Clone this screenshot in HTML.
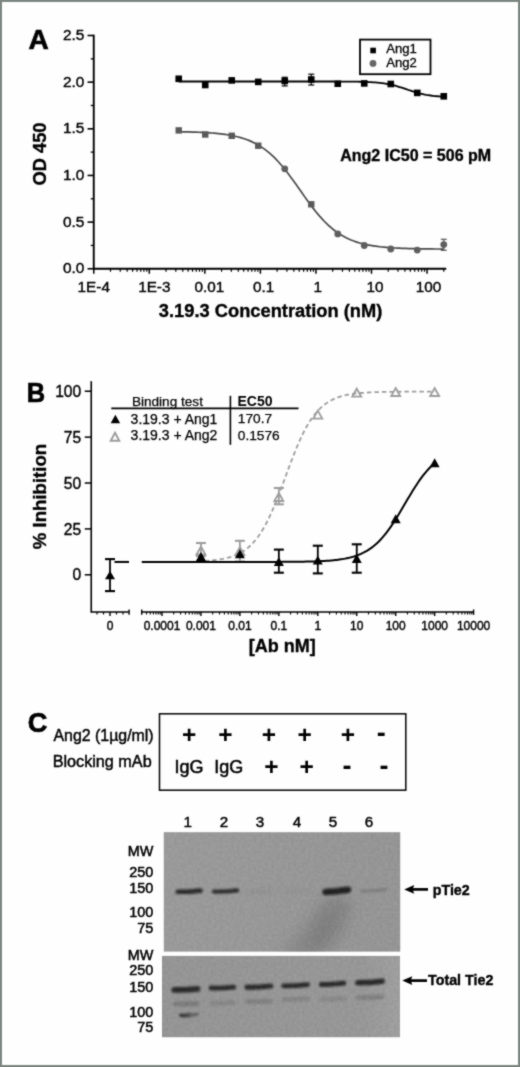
<!DOCTYPE html>
<html><head><meta charset="utf-8"><title>Figure</title>
<style>
html,body{margin:0;padding:0;background:#fff;}
svg{display:block;}
text{font-family:"Liberation Sans",Arial,sans-serif;}
</style></head>
<body>
<svg width="520" height="1067" viewBox="0 0 520 1067">
<defs><filter id="soft" filterUnits="userSpaceOnUse" x="0" y="0" width="520" height="1067" color-interpolation-filters="sRGB"><feConvolveMatrix order="3" kernelMatrix="1 2 1 2 12 2 1 2 1" edgeMode="duplicate" preserveAlpha="false"/></filter></defs>
<g filter="url(#soft)">
<rect x="0" y="0" width="520" height="1067" fill="#7c8681"/>
<rect x="2" y="2" width="516" height="1063" fill="#fefefe"/>
<text x="28.4" y="49" font-size="28" font-weight="bold" text-anchor="start" fill="#000" stroke="#000" stroke-width="0.7">A</text>
<line x1="93.75" y1="34.7" x2="93.75" y2="269.55" stroke="#000" stroke-width="1.9" />
<line x1="87.55" y1="268.75" x2="93.75" y2="268.75" stroke="#000" stroke-width="1.6" />
<text x="84.3" y="273.35" font-size="15.4" font-weight="normal" text-anchor="end" fill="#000"  stroke="#000" stroke-width="0.4">0.0</text>
<line x1="90.75" y1="245.43" x2="93.75" y2="245.43" stroke="#000" stroke-width="1.3" />
<line x1="87.55" y1="222.1" x2="93.75" y2="222.1" stroke="#000" stroke-width="1.6" />
<text x="84.3" y="226.7" font-size="15.4" font-weight="normal" text-anchor="end" fill="#000"  stroke="#000" stroke-width="0.4">0.5</text>
<line x1="90.75" y1="198.78" x2="93.75" y2="198.78" stroke="#000" stroke-width="1.3" />
<line x1="87.55" y1="175.45" x2="93.75" y2="175.45" stroke="#000" stroke-width="1.6" />
<text x="84.3" y="180.05" font-size="15.4" font-weight="normal" text-anchor="end" fill="#000"  stroke="#000" stroke-width="0.4">1.0</text>
<line x1="90.75" y1="152.12" x2="93.75" y2="152.12" stroke="#000" stroke-width="1.3" />
<line x1="87.55" y1="128.8" x2="93.75" y2="128.8" stroke="#000" stroke-width="1.6" />
<text x="84.3" y="133.4" font-size="15.4" font-weight="normal" text-anchor="end" fill="#000"  stroke="#000" stroke-width="0.4">1.5</text>
<line x1="90.75" y1="105.47" x2="93.75" y2="105.47" stroke="#000" stroke-width="1.3" />
<line x1="87.55" y1="82.15" x2="93.75" y2="82.15" stroke="#000" stroke-width="1.6" />
<text x="84.3" y="86.75" font-size="15.4" font-weight="normal" text-anchor="end" fill="#000"  stroke="#000" stroke-width="0.4">2.0</text>
<line x1="90.75" y1="58.83" x2="93.75" y2="58.83" stroke="#000" stroke-width="1.3" />
<line x1="87.55" y1="35.5" x2="93.75" y2="35.5" stroke="#000" stroke-width="1.6" />
<text x="84.3" y="40.1" font-size="15.4" font-weight="normal" text-anchor="end" fill="#000"  stroke="#000" stroke-width="0.4">2.5</text>
<line x1="93.75" y1="268.75" x2="446.27" y2="268.75" stroke="#000" stroke-width="1.9" />
<line x1="93.75" y1="268.75" x2="93.75" y2="273.75" stroke="#000" stroke-width="1.5" />
<line x1="110.47" y1="268.75" x2="110.47" y2="271.75" stroke="#000" stroke-width="1.2" />
<line x1="120.25" y1="268.75" x2="120.25" y2="271.75" stroke="#000" stroke-width="1.2" />
<line x1="127.19" y1="268.75" x2="127.19" y2="271.75" stroke="#000" stroke-width="1.2" />
<line x1="132.58" y1="268.75" x2="132.58" y2="271.75" stroke="#000" stroke-width="1.2" />
<line x1="136.98" y1="268.75" x2="136.98" y2="271.75" stroke="#000" stroke-width="1.2" />
<line x1="140.7" y1="268.75" x2="140.7" y2="271.75" stroke="#000" stroke-width="1.2" />
<line x1="143.92" y1="268.75" x2="143.92" y2="271.75" stroke="#000" stroke-width="1.2" />
<line x1="146.76" y1="268.75" x2="146.76" y2="271.75" stroke="#000" stroke-width="1.2" />
<line x1="149.3" y1="268.75" x2="149.3" y2="273.75" stroke="#000" stroke-width="1.5" />
<line x1="166.02" y1="268.75" x2="166.02" y2="271.75" stroke="#000" stroke-width="1.2" />
<line x1="175.8" y1="268.75" x2="175.8" y2="271.75" stroke="#000" stroke-width="1.2" />
<line x1="182.74" y1="268.75" x2="182.74" y2="271.75" stroke="#000" stroke-width="1.2" />
<line x1="188.13" y1="268.75" x2="188.13" y2="271.75" stroke="#000" stroke-width="1.2" />
<line x1="192.53" y1="268.75" x2="192.53" y2="271.75" stroke="#000" stroke-width="1.2" />
<line x1="196.25" y1="268.75" x2="196.25" y2="271.75" stroke="#000" stroke-width="1.2" />
<line x1="199.47" y1="268.75" x2="199.47" y2="271.75" stroke="#000" stroke-width="1.2" />
<line x1="202.31" y1="268.75" x2="202.31" y2="271.75" stroke="#000" stroke-width="1.2" />
<line x1="204.85" y1="268.75" x2="204.85" y2="273.75" stroke="#000" stroke-width="1.5" />
<line x1="221.57" y1="268.75" x2="221.57" y2="271.75" stroke="#000" stroke-width="1.2" />
<line x1="231.35" y1="268.75" x2="231.35" y2="271.75" stroke="#000" stroke-width="1.2" />
<line x1="238.29" y1="268.75" x2="238.29" y2="271.75" stroke="#000" stroke-width="1.2" />
<line x1="243.68" y1="268.75" x2="243.68" y2="271.75" stroke="#000" stroke-width="1.2" />
<line x1="248.08" y1="268.75" x2="248.08" y2="271.75" stroke="#000" stroke-width="1.2" />
<line x1="251.8" y1="268.75" x2="251.8" y2="271.75" stroke="#000" stroke-width="1.2" />
<line x1="255.02" y1="268.75" x2="255.02" y2="271.75" stroke="#000" stroke-width="1.2" />
<line x1="257.86" y1="268.75" x2="257.86" y2="271.75" stroke="#000" stroke-width="1.2" />
<line x1="260.4" y1="268.75" x2="260.4" y2="273.75" stroke="#000" stroke-width="1.5" />
<line x1="277.12" y1="268.75" x2="277.12" y2="271.75" stroke="#000" stroke-width="1.2" />
<line x1="286.9" y1="268.75" x2="286.9" y2="271.75" stroke="#000" stroke-width="1.2" />
<line x1="293.84" y1="268.75" x2="293.84" y2="271.75" stroke="#000" stroke-width="1.2" />
<line x1="299.23" y1="268.75" x2="299.23" y2="271.75" stroke="#000" stroke-width="1.2" />
<line x1="303.63" y1="268.75" x2="303.63" y2="271.75" stroke="#000" stroke-width="1.2" />
<line x1="307.35" y1="268.75" x2="307.35" y2="271.75" stroke="#000" stroke-width="1.2" />
<line x1="310.57" y1="268.75" x2="310.57" y2="271.75" stroke="#000" stroke-width="1.2" />
<line x1="313.41" y1="268.75" x2="313.41" y2="271.75" stroke="#000" stroke-width="1.2" />
<line x1="315.95" y1="268.75" x2="315.95" y2="273.75" stroke="#000" stroke-width="1.5" />
<line x1="332.67" y1="268.75" x2="332.67" y2="271.75" stroke="#000" stroke-width="1.2" />
<line x1="342.45" y1="268.75" x2="342.45" y2="271.75" stroke="#000" stroke-width="1.2" />
<line x1="349.39" y1="268.75" x2="349.39" y2="271.75" stroke="#000" stroke-width="1.2" />
<line x1="354.78" y1="268.75" x2="354.78" y2="271.75" stroke="#000" stroke-width="1.2" />
<line x1="359.18" y1="268.75" x2="359.18" y2="271.75" stroke="#000" stroke-width="1.2" />
<line x1="362.9" y1="268.75" x2="362.9" y2="271.75" stroke="#000" stroke-width="1.2" />
<line x1="366.12" y1="268.75" x2="366.12" y2="271.75" stroke="#000" stroke-width="1.2" />
<line x1="368.96" y1="268.75" x2="368.96" y2="271.75" stroke="#000" stroke-width="1.2" />
<line x1="371.5" y1="268.75" x2="371.5" y2="273.75" stroke="#000" stroke-width="1.5" />
<line x1="388.22" y1="268.75" x2="388.22" y2="271.75" stroke="#000" stroke-width="1.2" />
<line x1="398" y1="268.75" x2="398" y2="271.75" stroke="#000" stroke-width="1.2" />
<line x1="404.94" y1="268.75" x2="404.94" y2="271.75" stroke="#000" stroke-width="1.2" />
<line x1="410.33" y1="268.75" x2="410.33" y2="271.75" stroke="#000" stroke-width="1.2" />
<line x1="414.73" y1="268.75" x2="414.73" y2="271.75" stroke="#000" stroke-width="1.2" />
<line x1="418.45" y1="268.75" x2="418.45" y2="271.75" stroke="#000" stroke-width="1.2" />
<line x1="421.67" y1="268.75" x2="421.67" y2="271.75" stroke="#000" stroke-width="1.2" />
<line x1="424.51" y1="268.75" x2="424.51" y2="271.75" stroke="#000" stroke-width="1.2" />
<line x1="427.05" y1="268.75" x2="427.05" y2="273.75" stroke="#000" stroke-width="1.5" />
<line x1="443.77" y1="268.75" x2="443.77" y2="271.75" stroke="#000" stroke-width="1.2" />
<text x="93.75" y="292.2" font-size="15.3" font-weight="normal" text-anchor="middle" fill="#000"  stroke="#000" stroke-width="0.4">1E-4</text>
<text x="154.3" y="292.2" font-size="15.3" font-weight="normal" text-anchor="middle" fill="#000"  stroke="#000" stroke-width="0.4">1E-3</text>
<text x="209.35" y="292.2" font-size="15.3" font-weight="normal" text-anchor="middle" fill="#000"  stroke="#000" stroke-width="0.4">0.01</text>
<text x="263.7" y="292.2" font-size="15.3" font-weight="normal" text-anchor="middle" fill="#000"  stroke="#000" stroke-width="0.4">0.1</text>
<text x="317.75" y="292.2" font-size="15.3" font-weight="normal" text-anchor="middle" fill="#000"  stroke="#000" stroke-width="0.4">1</text>
<text x="375.1" y="292.2" font-size="15.3" font-weight="normal" text-anchor="middle" fill="#000"  stroke="#000" stroke-width="0.4">10</text>
<text x="428.55" y="292.2" font-size="15.3" font-weight="normal" text-anchor="middle" fill="#000"  stroke="#000" stroke-width="0.4">100</text>
<text x="270.6" y="317.2" font-size="18.3" font-weight="bold" text-anchor="middle" fill="#000"  stroke="#000" stroke-width="0.35">3.19.3 Concentration (nM)</text>
<text x="0" y="0" font-size="18.3" font-weight="bold" text-anchor="middle" fill="#000" transform="translate(45.6,154) rotate(-90)" stroke="#000" stroke-width="0.35">OD 450</text>
<path d="M178.73,131.74 L180.94,131.77 L183.15,131.81 L185.36,131.86 L187.57,131.91 L189.77,131.97 L191.98,132.03 L194.19,132.1 L196.4,132.18 L198.61,132.26 L200.82,132.36 L203.03,132.46 L205.24,132.58 L207.44,132.71 L209.65,132.85 L211.86,133.02 L214.07,133.19 L216.28,133.39 L218.49,133.61 L220.7,133.86 L222.9,134.12 L225.11,134.42 L227.32,134.75 L229.53,135.12 L231.74,135.53 L233.95,135.97 L236.16,136.47 L238.37,137.01 L240.57,137.61 L242.78,138.27 L244.99,138.99 L247.2,139.79 L249.41,140.66 L251.62,141.62 L253.83,142.66 L256.03,143.8 L258.24,145.04 L260.45,146.38 L262.66,147.84 L264.87,149.41 L267.08,151.11 L269.29,152.93 L271.5,154.88 L273.7,156.95 L275.91,159.16 L278.12,161.5 L280.33,163.96 L282.54,166.54 L284.75,169.24 L286.96,172.04 L289.17,174.93 L291.37,177.91 L293.58,180.95 L295.79,184.05 L298,187.18 L300.21,190.33 L302.42,193.48 L304.63,196.62 L306.83,199.71 L309.04,202.75 L311.25,205.73 L313.46,208.62 L315.67,211.42 L317.88,214.11 L320.09,216.69 L322.3,219.15 L324.5,221.48 L326.71,223.68 L328.92,225.76 L331.13,227.7 L333.34,229.52 L335.55,231.21 L337.76,232.78 L339.96,234.23 L342.17,235.57 L344.38,236.81 L346.59,237.94 L348.8,238.98 L351.01,239.93 L353.22,240.8 L355.43,241.6 L357.63,242.32 L359.84,242.98 L362.05,243.58 L364.26,244.12 L366.47,244.61 L368.68,245.06 L370.89,245.46 L373.09,245.83 L375.3,246.16 L377.51,246.45 L379.72,246.72 L381.93,246.97 L384.14,247.18 L386.35,247.38 L388.56,247.56 L390.76,247.72 L392.97,247.86 L395.18,247.99 L397.39,248.11 L399.6,248.22 L401.81,248.31 L404.02,248.4 L406.22,248.47 L408.43,248.54 L410.64,248.6 L412.85,248.66 L415.06,248.71 L417.27,248.76 L419.48,248.8 L421.69,248.83 L423.89,248.87 L426.1,248.9 L428.31,248.92 L430.52,248.95 L432.73,248.97 L434.94,248.99 L437.15,249 L439.35,249.02 L441.56,249.03 L443.77,249.05" fill="none" stroke="#4a4a4a" stroke-width="1.7"/>
<path d="M178.73,81.5 L180.94,81.5 L183.15,81.5 L185.36,81.5 L187.57,81.5 L189.77,81.5 L191.98,81.5 L194.19,81.5 L196.4,81.5 L198.61,81.5 L200.82,81.5 L203.03,81.5 L205.24,81.5 L207.44,81.5 L209.65,81.5 L211.86,81.5 L214.07,81.5 L216.28,81.5 L218.49,81.5 L220.7,81.5 L222.9,81.5 L225.11,81.5 L227.32,81.5 L229.53,81.5 L231.74,81.5 L233.95,81.5 L236.16,81.5 L238.37,81.5 L240.57,81.5 L242.78,81.5 L244.99,81.5 L247.2,81.5 L249.41,81.5 L251.62,81.5 L253.83,81.5 L256.03,81.5 L258.24,81.5 L260.45,81.5 L262.66,81.5 L264.87,81.5 L267.08,81.5 L269.29,81.5 L271.5,81.5 L273.7,81.5 L275.91,81.5 L278.12,81.5 L280.33,81.5 L282.54,81.5 L284.75,81.5 L286.96,81.5 L289.17,81.5 L291.37,81.5 L293.58,81.5 L295.79,81.5 L298,81.5 L300.21,81.5 L302.42,81.5 L304.63,81.5 L306.83,81.5 L309.04,81.5 L311.25,81.5 L313.46,81.5 L315.67,81.5 L317.88,81.5 L320.09,81.51 L322.3,81.51 L324.5,81.51 L326.71,81.51 L328.92,81.51 L331.13,81.52 L333.34,81.52 L335.55,81.53 L337.76,81.54 L339.96,81.54 L342.17,81.55 L344.38,81.57 L346.59,81.58 L348.8,81.6 L351.01,81.62 L353.22,81.65 L355.43,81.68 L357.63,81.71 L359.84,81.76 L362.05,81.81 L364.26,81.88 L366.47,81.96 L368.68,82.05 L370.89,82.17 L373.09,82.3 L375.3,82.46 L377.51,82.65 L379.72,82.87 L381.93,83.13 L384.14,83.44 L386.35,83.79 L388.56,84.19 L390.76,84.65 L392.97,85.16 L395.18,85.73 L397.39,86.35 L399.6,87.02 L401.81,87.73 L404.02,88.47 L406.22,89.22 L408.43,89.98 L410.64,90.72 L412.85,91.45 L415.06,92.13 L417.27,92.77 L419.48,93.37 L421.69,93.9 L423.89,94.38 L426.1,94.81 L428.31,95.18 L430.52,95.5 L432.73,95.78 L434.94,96.02 L437.15,96.23 L439.35,96.4 L441.56,96.54 L443.77,96.66" fill="none" stroke="#000" stroke-width="1.8"/>
<rect x="175.43" y="75.5" width="6.6" height="6.6" fill="#000"/>
<rect x="201.94" y="81.7" width="6.6" height="6.6" fill="#000"/>
<rect x="228.44" y="77.1" width="6.6" height="6.6" fill="#000"/>
<rect x="254.94" y="78.6" width="6.6" height="6.6" fill="#000"/>
<line x1="284.75" y1="77.3" x2="284.75" y2="85.9" stroke="#000" stroke-width="1.2" />
<line x1="281.75" y1="77.3" x2="287.75" y2="77.3" stroke="#000" stroke-width="1.2" />
<line x1="281.75" y1="85.9" x2="287.75" y2="85.9" stroke="#000" stroke-width="1.2" />
<rect x="281.45" y="77.7" width="6.6" height="6.6" fill="#000"/>
<line x1="311.25" y1="74.2" x2="311.25" y2="85" stroke="#000" stroke-width="1.2" />
<line x1="308.25" y1="74.2" x2="314.25" y2="74.2" stroke="#000" stroke-width="1.2" />
<line x1="308.25" y1="85" x2="314.25" y2="85" stroke="#000" stroke-width="1.2" />
<rect x="307.95" y="76.2" width="6.6" height="6.6" fill="#000"/>
<rect x="334.46" y="80.4" width="6.6" height="6.6" fill="#000"/>
<rect x="360.96" y="80.1" width="6.6" height="6.6" fill="#000"/>
<rect x="387.46" y="80.7" width="6.6" height="6.6" fill="#000"/>
<rect x="413.97" y="89.6" width="6.6" height="6.6" fill="#000"/>
<rect x="440.47" y="93" width="6.6" height="6.6" fill="#000"/>
<rect x="175.53" y="127.2" width="6.4" height="6.4" fill="#5a5a5a"/>
<rect x="202.04" y="131.3" width="6.4" height="6.4" fill="#5a5a5a"/>
<rect x="228.54" y="132.6" width="6.4" height="6.4" fill="#5a5a5a"/>
<rect x="255.04" y="142.5" width="6.4" height="6.4" fill="#5a5a5a"/>
<circle cx="284.75" cy="168.8" r="3.4" fill="#5f5f5f"/>
<rect x="308.05" y="201.1" width="6.4" height="6.4" fill="#5a5a5a"/>
<circle cx="337.76" cy="233.9" r="3.4" fill="#5f5f5f"/>
<circle cx="364.26" cy="245.5" r="3.4" fill="#5f5f5f"/>
<circle cx="390.76" cy="249" r="3.4" fill="#5f5f5f"/>
<circle cx="417.27" cy="250.1" r="3.4" fill="#5f5f5f"/>
<line x1="443.77" y1="239.3" x2="443.77" y2="250.3" stroke="#555" stroke-width="1.2" />
<line x1="440.77" y1="239.3" x2="446.77" y2="239.3" stroke="#555" stroke-width="1.2" />
<line x1="440.77" y1="250.3" x2="446.77" y2="250.3" stroke="#555" stroke-width="1.2" />
<circle cx="443.77" cy="244.6" r="3.4" fill="#5f5f5f"/>
<rect x="360" y="39.6" width="70.5" height="34.6" fill="none" stroke="#000" stroke-width="1.8"/>
<rect x="370.3" y="47.7" width="5.6" height="5.6" fill="#000"/>
<circle cx="373" cy="63.4" r="3.4" fill="#666"/>
<text x="386.3" y="53.2" font-size="13.1" font-weight="normal" text-anchor="start" fill="#000"  stroke="#000" stroke-width="0.3">Ang1</text>
<text x="386.3" y="66.6" font-size="13.1" font-weight="normal" text-anchor="start" fill="#000"  stroke="#000" stroke-width="0.3">Ang2</text>
<text x="340.2" y="161.2" font-size="16.05" font-weight="bold" text-anchor="start" fill="#000"  stroke="#000" stroke-width="0.35">Ang2 IC50 = 506 pM</text>
<text x="26.8" y="401.9" font-size="28.4" font-weight="bold" text-anchor="start" fill="#000" textLength="18.4" lengthAdjust="spacingAndGlyphs" stroke="#000" stroke-width="0.7">B</text>
<line x1="91.25" y1="381.2" x2="91.25" y2="612.7" stroke="#000" stroke-width="1.6" />
<line x1="84.75" y1="574.8" x2="91.25" y2="574.8" stroke="#000" stroke-width="1.5" />
<text x="81.2" y="580.4" font-size="15.6" font-weight="normal" text-anchor="end" fill="#000"  stroke="#000" stroke-width="0.4">0</text>
<line x1="84.75" y1="528.91" x2="91.25" y2="528.91" stroke="#000" stroke-width="1.5" />
<text x="81.2" y="534.51" font-size="15.6" font-weight="normal" text-anchor="end" fill="#000"  stroke="#000" stroke-width="0.4">25</text>
<line x1="84.75" y1="483.02" x2="91.25" y2="483.02" stroke="#000" stroke-width="1.5" />
<text x="81.2" y="488.62" font-size="15.6" font-weight="normal" text-anchor="end" fill="#000"  stroke="#000" stroke-width="0.4">50</text>
<line x1="84.75" y1="437.14" x2="91.25" y2="437.14" stroke="#000" stroke-width="1.5" />
<text x="81.2" y="442.74" font-size="15.6" font-weight="normal" text-anchor="end" fill="#000"  stroke="#000" stroke-width="0.4">75</text>
<line x1="84.75" y1="391.25" x2="91.25" y2="391.25" stroke="#000" stroke-width="1.5" />
<text x="81.2" y="396.85" font-size="15.6" font-weight="normal" text-anchor="end" fill="#000"  stroke="#000" stroke-width="0.4">100</text>
<line x1="91.25" y1="612" x2="129.1" y2="612" stroke="#000" stroke-width="1.6" />
<line x1="97" y1="612" x2="97" y2="614.5" stroke="#000" stroke-width="1.2" />
<line x1="103.5" y1="612" x2="103.5" y2="614.5" stroke="#000" stroke-width="1.2" />
<line x1="116.5" y1="612" x2="116.5" y2="614.5" stroke="#000" stroke-width="1.2" />
<line x1="123" y1="612" x2="123" y2="614.5" stroke="#000" stroke-width="1.2" />
<line x1="110" y1="612" x2="110" y2="616" stroke="#000" stroke-width="1.4" />
<line x1="129.1" y1="609.5" x2="129.1" y2="614.8" stroke="#000" stroke-width="1.4" />
<text x="110" y="630.3" font-size="12" font-weight="normal" text-anchor="middle" fill="#000"  stroke="#000" stroke-width="0.4">0</text>
<line x1="141.7" y1="612" x2="473.6" y2="612" stroke="#000" stroke-width="1.6" />
<line x1="141.7" y1="609.5" x2="141.7" y2="614.8" stroke="#000" stroke-width="1.4" />
<line x1="473.6" y1="609.5" x2="473.6" y2="614.8" stroke="#000" stroke-width="1.4" />
<line x1="146.5" y1="612" x2="146.5" y2="614.5" stroke="#000" stroke-width="1.1" />
<line x1="150.27" y1="612" x2="150.27" y2="614.5" stroke="#000" stroke-width="1.1" />
<line x1="153.36" y1="612" x2="153.36" y2="614.5" stroke="#000" stroke-width="1.1" />
<line x1="155.97" y1="612" x2="155.97" y2="614.5" stroke="#000" stroke-width="1.1" />
<line x1="158.23" y1="612" x2="158.23" y2="614.5" stroke="#000" stroke-width="1.1" />
<line x1="160.22" y1="612" x2="160.22" y2="614.5" stroke="#000" stroke-width="1.1" />
<line x1="162" y1="612" x2="162" y2="616" stroke="#000" stroke-width="1.4" />
<line x1="173.73" y1="612" x2="173.73" y2="614.5" stroke="#000" stroke-width="1.1" />
<line x1="180.58" y1="612" x2="180.58" y2="614.5" stroke="#000" stroke-width="1.1" />
<line x1="185.45" y1="612" x2="185.45" y2="614.5" stroke="#000" stroke-width="1.1" />
<line x1="189.22" y1="612" x2="189.22" y2="614.5" stroke="#000" stroke-width="1.1" />
<line x1="192.31" y1="612" x2="192.31" y2="614.5" stroke="#000" stroke-width="1.1" />
<line x1="194.92" y1="612" x2="194.92" y2="614.5" stroke="#000" stroke-width="1.1" />
<line x1="197.18" y1="612" x2="197.18" y2="614.5" stroke="#000" stroke-width="1.1" />
<line x1="199.17" y1="612" x2="199.17" y2="614.5" stroke="#000" stroke-width="1.1" />
<line x1="200.95" y1="612" x2="200.95" y2="616" stroke="#000" stroke-width="1.4" />
<line x1="212.68" y1="612" x2="212.68" y2="614.5" stroke="#000" stroke-width="1.1" />
<line x1="219.53" y1="612" x2="219.53" y2="614.5" stroke="#000" stroke-width="1.1" />
<line x1="224.4" y1="612" x2="224.4" y2="614.5" stroke="#000" stroke-width="1.1" />
<line x1="228.17" y1="612" x2="228.17" y2="614.5" stroke="#000" stroke-width="1.1" />
<line x1="231.26" y1="612" x2="231.26" y2="614.5" stroke="#000" stroke-width="1.1" />
<line x1="233.87" y1="612" x2="233.87" y2="614.5" stroke="#000" stroke-width="1.1" />
<line x1="236.13" y1="612" x2="236.13" y2="614.5" stroke="#000" stroke-width="1.1" />
<line x1="238.12" y1="612" x2="238.12" y2="614.5" stroke="#000" stroke-width="1.1" />
<line x1="239.9" y1="612" x2="239.9" y2="616" stroke="#000" stroke-width="1.4" />
<line x1="251.63" y1="612" x2="251.63" y2="614.5" stroke="#000" stroke-width="1.1" />
<line x1="258.48" y1="612" x2="258.48" y2="614.5" stroke="#000" stroke-width="1.1" />
<line x1="263.35" y1="612" x2="263.35" y2="614.5" stroke="#000" stroke-width="1.1" />
<line x1="267.12" y1="612" x2="267.12" y2="614.5" stroke="#000" stroke-width="1.1" />
<line x1="270.21" y1="612" x2="270.21" y2="614.5" stroke="#000" stroke-width="1.1" />
<line x1="272.82" y1="612" x2="272.82" y2="614.5" stroke="#000" stroke-width="1.1" />
<line x1="275.08" y1="612" x2="275.08" y2="614.5" stroke="#000" stroke-width="1.1" />
<line x1="277.07" y1="612" x2="277.07" y2="614.5" stroke="#000" stroke-width="1.1" />
<line x1="278.85" y1="612" x2="278.85" y2="616" stroke="#000" stroke-width="1.4" />
<line x1="290.58" y1="612" x2="290.58" y2="614.5" stroke="#000" stroke-width="1.1" />
<line x1="297.43" y1="612" x2="297.43" y2="614.5" stroke="#000" stroke-width="1.1" />
<line x1="302.3" y1="612" x2="302.3" y2="614.5" stroke="#000" stroke-width="1.1" />
<line x1="306.07" y1="612" x2="306.07" y2="614.5" stroke="#000" stroke-width="1.1" />
<line x1="309.16" y1="612" x2="309.16" y2="614.5" stroke="#000" stroke-width="1.1" />
<line x1="311.77" y1="612" x2="311.77" y2="614.5" stroke="#000" stroke-width="1.1" />
<line x1="314.03" y1="612" x2="314.03" y2="614.5" stroke="#000" stroke-width="1.1" />
<line x1="316.02" y1="612" x2="316.02" y2="614.5" stroke="#000" stroke-width="1.1" />
<line x1="317.8" y1="612" x2="317.8" y2="616" stroke="#000" stroke-width="1.4" />
<line x1="329.53" y1="612" x2="329.53" y2="614.5" stroke="#000" stroke-width="1.1" />
<line x1="336.38" y1="612" x2="336.38" y2="614.5" stroke="#000" stroke-width="1.1" />
<line x1="341.25" y1="612" x2="341.25" y2="614.5" stroke="#000" stroke-width="1.1" />
<line x1="345.02" y1="612" x2="345.02" y2="614.5" stroke="#000" stroke-width="1.1" />
<line x1="348.11" y1="612" x2="348.11" y2="614.5" stroke="#000" stroke-width="1.1" />
<line x1="350.72" y1="612" x2="350.72" y2="614.5" stroke="#000" stroke-width="1.1" />
<line x1="352.98" y1="612" x2="352.98" y2="614.5" stroke="#000" stroke-width="1.1" />
<line x1="354.97" y1="612" x2="354.97" y2="614.5" stroke="#000" stroke-width="1.1" />
<line x1="356.75" y1="612" x2="356.75" y2="616" stroke="#000" stroke-width="1.4" />
<line x1="368.48" y1="612" x2="368.48" y2="614.5" stroke="#000" stroke-width="1.1" />
<line x1="375.33" y1="612" x2="375.33" y2="614.5" stroke="#000" stroke-width="1.1" />
<line x1="380.2" y1="612" x2="380.2" y2="614.5" stroke="#000" stroke-width="1.1" />
<line x1="383.97" y1="612" x2="383.97" y2="614.5" stroke="#000" stroke-width="1.1" />
<line x1="387.06" y1="612" x2="387.06" y2="614.5" stroke="#000" stroke-width="1.1" />
<line x1="389.67" y1="612" x2="389.67" y2="614.5" stroke="#000" stroke-width="1.1" />
<line x1="391.93" y1="612" x2="391.93" y2="614.5" stroke="#000" stroke-width="1.1" />
<line x1="393.92" y1="612" x2="393.92" y2="614.5" stroke="#000" stroke-width="1.1" />
<line x1="395.7" y1="612" x2="395.7" y2="616" stroke="#000" stroke-width="1.4" />
<line x1="407.43" y1="612" x2="407.43" y2="614.5" stroke="#000" stroke-width="1.1" />
<line x1="414.28" y1="612" x2="414.28" y2="614.5" stroke="#000" stroke-width="1.1" />
<line x1="419.15" y1="612" x2="419.15" y2="614.5" stroke="#000" stroke-width="1.1" />
<line x1="422.92" y1="612" x2="422.92" y2="614.5" stroke="#000" stroke-width="1.1" />
<line x1="426.01" y1="612" x2="426.01" y2="614.5" stroke="#000" stroke-width="1.1" />
<line x1="428.62" y1="612" x2="428.62" y2="614.5" stroke="#000" stroke-width="1.1" />
<line x1="430.88" y1="612" x2="430.88" y2="614.5" stroke="#000" stroke-width="1.1" />
<line x1="432.87" y1="612" x2="432.87" y2="614.5" stroke="#000" stroke-width="1.1" />
<line x1="434.65" y1="612" x2="434.65" y2="616" stroke="#000" stroke-width="1.4" />
<line x1="446.38" y1="612" x2="446.38" y2="614.5" stroke="#000" stroke-width="1.1" />
<line x1="453.23" y1="612" x2="453.23" y2="614.5" stroke="#000" stroke-width="1.1" />
<line x1="458.1" y1="612" x2="458.1" y2="614.5" stroke="#000" stroke-width="1.1" />
<line x1="461.87" y1="612" x2="461.87" y2="614.5" stroke="#000" stroke-width="1.1" />
<line x1="464.96" y1="612" x2="464.96" y2="614.5" stroke="#000" stroke-width="1.1" />
<line x1="467.57" y1="612" x2="467.57" y2="614.5" stroke="#000" stroke-width="1.1" />
<line x1="469.83" y1="612" x2="469.83" y2="614.5" stroke="#000" stroke-width="1.1" />
<line x1="471.82" y1="612" x2="471.82" y2="614.5" stroke="#000" stroke-width="1.1" />
<text x="162" y="629.8" font-size="12" font-weight="normal" text-anchor="middle" fill="#000"  stroke="#000" stroke-width="0.4">0.0001</text>
<text x="200.95" y="629.8" font-size="12" font-weight="normal" text-anchor="middle" fill="#000"  stroke="#000" stroke-width="0.4">0.001</text>
<text x="239.9" y="629.8" font-size="12" font-weight="normal" text-anchor="middle" fill="#000"  stroke="#000" stroke-width="0.4">0.01</text>
<text x="278.85" y="629.8" font-size="12" font-weight="normal" text-anchor="middle" fill="#000"  stroke="#000" stroke-width="0.4">0.1</text>
<text x="317.8" y="629.8" font-size="12" font-weight="normal" text-anchor="middle" fill="#000"  stroke="#000" stroke-width="0.4">1</text>
<text x="356.75" y="629.8" font-size="12" font-weight="normal" text-anchor="middle" fill="#000"  stroke="#000" stroke-width="0.4">10</text>
<text x="395.7" y="629.8" font-size="12" font-weight="normal" text-anchor="middle" fill="#000"  stroke="#000" stroke-width="0.4">100</text>
<text x="434.65" y="629.8" font-size="12" font-weight="normal" text-anchor="middle" fill="#000"  stroke="#000" stroke-width="0.4">1000</text>
<text x="473.6" y="629.8" font-size="12" font-weight="normal" text-anchor="middle" fill="#000"  stroke="#000" stroke-width="0.4">10000</text>
<text x="282.3" y="651.8" font-size="18" font-weight="bold" text-anchor="middle" fill="#000"  stroke="#000" stroke-width="0.35">[Ab nM]</text>
<text x="0" y="0" font-size="18.6" font-weight="bold" text-anchor="middle" fill="#000" transform="translate(46,496.5) rotate(-90)" stroke="#000" stroke-width="0.35">% Inhibition</text>
<line x1="111.3" y1="408.4" x2="298.5" y2="408.4" stroke="#000" stroke-width="1.8" />
<line x1="230.4" y1="395.8" x2="230.4" y2="444.8" stroke="#000" stroke-width="1.6" />
<text x="131.9" y="405.6" font-size="13.6" font-weight="normal" text-anchor="start" fill="#000"  stroke="#000" stroke-width="0.25">Binding test</text>
<text x="237.5" y="405.9" font-size="14" font-weight="bold" text-anchor="start" fill="#000" >EC50</text>
<text x="130.6" y="423.6" font-size="14" font-weight="normal" text-anchor="start" fill="#000"  stroke="#000" stroke-width="0.25">3.19.3 + Ang1</text>
<text x="130.6" y="440.3" font-size="14" font-weight="normal" text-anchor="start" fill="#000"  stroke="#000" stroke-width="0.25">3.19.3 + Ang2</text>
<text x="237.8" y="422.5" font-size="13.7" font-weight="normal" text-anchor="start" fill="#000"  stroke="#000" stroke-width="0.25">170.7</text>
<text x="237.8" y="439.8" font-size="13.7" font-weight="normal" text-anchor="start" fill="#000"  stroke="#000" stroke-width="0.25">0.1576</text>
<polygon points="115.4,414.75 120.15,423.25 110.65,423.25" fill="#000"/>
<polygon points="115,432.8 119.3,440.8 110.7,440.8" fill="none" stroke="#9c9c9c" stroke-width="1.9" stroke-linejoin="miter"/>
<path d="M197.18,561.35 L198.36,561.3 L199.55,561.25 L200.74,561.19 L201.92,561.13 L203.11,561.07 L204.3,561 L205.49,560.93 L206.67,560.85 L207.86,560.76 L209.05,560.67 L210.24,560.57 L211.42,560.46 L212.61,560.34 L213.8,560.22 L214.99,560.08 L216.17,559.94 L217.36,559.78 L218.55,559.61 L219.74,559.43 L220.92,559.23 L222.11,559.02 L223.3,558.8 L224.48,558.55 L225.67,558.29 L226.86,558.01 L228.05,557.71 L229.23,557.38 L230.42,557.03 L231.61,556.66 L232.8,556.25 L233.98,555.82 L235.17,555.36 L236.36,554.86 L237.55,554.33 L238.73,553.75 L239.92,553.14 L241.11,552.49 L242.3,551.79 L243.48,551.04 L244.67,550.24 L245.86,549.38 L247.05,548.47 L248.23,547.5 L249.42,546.46 L250.61,545.36 L251.79,544.19 L252.98,542.95 L254.17,541.63 L255.36,540.24 L256.54,538.76 L257.73,537.2 L258.92,535.55 L260.11,533.81 L261.29,531.99 L262.48,530.07 L263.67,528.06 L264.86,525.95 L266.04,523.75 L267.23,521.46 L268.42,519.07 L269.61,516.6 L270.79,514.03 L271.98,511.38 L273.17,508.64 L274.35,505.83 L275.54,502.94 L276.73,499.98 L277.92,496.96 L279.1,493.89 L280.29,490.77 L281.48,487.61 L282.67,484.42 L283.85,481.21 L285.04,477.98 L286.23,474.75 L287.42,471.53 L288.6,468.33 L289.79,465.14 L290.98,461.99 L292.17,458.88 L293.35,455.82 L294.54,452.82 L295.73,449.88 L296.91,447.01 L298.1,444.22 L299.29,441.5 L300.48,438.87 L301.66,436.32 L302.85,433.87 L304.04,431.51 L305.23,429.24 L306.41,427.06 L307.6,424.98 L308.79,423 L309.98,421.1 L311.16,419.3 L312.35,417.59 L313.54,415.96 L314.73,414.42 L315.91,412.97 L317.1,411.59 L318.29,410.29 L319.47,409.07 L320.66,407.92 L321.85,406.83 L323.04,405.81 L324.22,404.86 L325.41,403.96 L326.6,403.12 L327.79,402.33 L328.97,401.6 L330.16,400.91 L331.35,400.26 L332.54,399.66 L333.72,399.1 L334.91,398.58 L336.1,398.09 L337.29,397.63 L338.47,397.21 L339.66,396.81 L340.85,396.44 L342.03,396.1 L343.22,395.78 L344.41,395.48 L345.6,395.21 L346.78,394.95 L347.97,394.71 L349.16,394.49 L350.35,394.28 L351.53,394.09 L352.72,393.91 L353.91,393.75 L355.1,393.59 L356.28,393.45 L357.47,393.32 L358.66,393.2 L359.85,393.08 L361.03,392.98 L362.22,392.88 L363.41,392.79 L364.59,392.7 L365.78,392.62 L366.97,392.55 L368.16,392.48 L369.34,392.42 L370.53,392.36 L371.72,392.31 L372.91,392.26 L374.09,392.21 L375.28,392.17 L376.47,392.13 L377.66,392.09 L378.84,392.06 L380.03,392.02 L381.22,391.99 L382.41,391.97 L383.59,391.94 L384.78,391.92 L385.97,391.9 L387.16,391.88 L388.34,391.86 L389.53,391.84 L390.72,391.82 L391.9,391.81 L393.09,391.79 L394.28,391.78 L395.47,391.77 L396.65,391.76 L397.84,391.75 L399.03,391.74 L400.22,391.73 L401.4,391.72 L402.59,391.71 L403.78,391.71 L404.97,391.7 L406.15,391.69 L407.34,391.69 L408.53,391.68 L409.72,391.68 L410.9,391.67 L412.09,391.67 L413.28,391.67 L414.46,391.66 L415.65,391.66 L416.84,391.66 L418.03,391.65 L419.21,391.65 L420.4,391.65 L421.59,391.65 L422.78,391.64 L423.96,391.64 L425.15,391.64 L426.34,391.64 L427.53,391.64 L428.71,391.64 L429.9,391.63 L431.09,391.63 L432.28,391.63 L433.46,391.63 L434.65,391.63" fill="none" stroke="#9d9d9d" stroke-width="1.8" stroke-dasharray="4.5,3"/>
<line x1="200.95" y1="543" x2="200.95" y2="556" stroke="#9d9d9d" stroke-width="1.8" />
<line x1="195.95" y1="543" x2="205.95" y2="543" stroke="#9d9d9d" stroke-width="2.1" />
<line x1="195.95" y1="556" x2="205.95" y2="556" stroke="#9d9d9d" stroke-width="2.1" />
<line x1="239.9" y1="540.8" x2="239.9" y2="561.5" stroke="#9d9d9d" stroke-width="1.8" />
<line x1="234.9" y1="540.8" x2="244.9" y2="540.8" stroke="#9d9d9d" stroke-width="2.1" />
<line x1="234.9" y1="561.5" x2="244.9" y2="561.5" stroke="#9d9d9d" stroke-width="2.1" />
<line x1="278.85" y1="488" x2="278.85" y2="504.3" stroke="#9d9d9d" stroke-width="1.8" />
<line x1="273.85" y1="488" x2="283.85" y2="488" stroke="#9d9d9d" stroke-width="2.1" />
<line x1="273.85" y1="504.3" x2="283.85" y2="504.3" stroke="#9d9d9d" stroke-width="2.1" />
<polygon points="200.95,546.5 205.45,554.5 196.45,554.5" fill="none" stroke="#9d9d9d" stroke-width="1.8" stroke-linejoin="miter"/>
<polygon points="239.9,547 244.4,555 235.4,555" fill="none" stroke="#9d9d9d" stroke-width="1.8" stroke-linejoin="miter"/>
<polygon points="278.85,493 283.35,501 274.35,501" fill="none" stroke="#9d9d9d" stroke-width="1.8" stroke-linejoin="miter"/>
<polygon points="317.8,410.6 322.3,418.6 313.3,418.6" fill="none" stroke="#9d9d9d" stroke-width="1.8" stroke-linejoin="miter"/>
<polygon points="356.75,388.7 361.25,396.7 352.25,396.7" fill="none" stroke="#9d9d9d" stroke-width="1.8" stroke-linejoin="miter"/>
<polygon points="395.7,388 400.2,396 391.2,396" fill="none" stroke="#9d9d9d" stroke-width="1.8" stroke-linejoin="miter"/>
<polygon points="434.65,388 439.15,396 430.15,396" fill="none" stroke="#9d9d9d" stroke-width="1.8" stroke-linejoin="miter"/>
<path d="M141.75,561.95 L143.21,561.95 L144.68,561.95 L146.14,561.95 L147.6,561.95 L149.07,561.95 L150.53,561.95 L152,561.95 L153.46,561.95 L154.93,561.95 L156.39,561.95 L157.86,561.95 L159.32,561.95 L160.78,561.95 L162.25,561.95 L163.71,561.95 L165.18,561.95 L166.64,561.95 L168.11,561.95 L169.57,561.95 L171.04,561.95 L172.5,561.95 L173.97,561.95 L175.43,561.95 L176.89,561.95 L178.36,561.95 L179.82,561.95 L181.29,561.95 L182.75,561.95 L184.22,561.95 L185.68,561.95 L187.15,561.95 L188.61,561.95 L190.08,561.95 L191.54,561.95 L193,561.95 L194.47,561.95 L195.93,561.95 L197.4,561.95 L198.86,561.95 L200.33,561.95 L201.79,561.95 L203.26,561.95 L204.72,561.95 L206.18,561.95 L207.65,561.95 L209.11,561.95 L210.58,561.95 L212.04,561.95 L213.51,561.95 L214.97,561.95 L216.44,561.95 L217.9,561.95 L219.37,561.95 L220.83,561.95 L222.29,561.95 L223.76,561.95 L225.22,561.95 L226.69,561.95 L228.15,561.95 L229.62,561.95 L231.08,561.95 L232.55,561.95 L234.01,561.95 L235.48,561.95 L236.94,561.95 L238.4,561.95 L239.87,561.94 L241.33,561.94 L242.8,561.94 L244.26,561.94 L245.73,561.94 L247.19,561.94 L248.66,561.94 L250.12,561.94 L251.59,561.94 L253.05,561.94 L254.51,561.94 L255.98,561.93 L257.44,561.93 L258.91,561.93 L260.37,561.93 L261.84,561.93 L263.3,561.92 L264.77,561.92 L266.23,561.92 L267.69,561.92 L269.16,561.91 L270.62,561.91 L272.09,561.91 L273.55,561.9 L275.02,561.9 L276.48,561.89 L277.95,561.89 L279.41,561.88 L280.88,561.88 L282.34,561.87 L283.8,561.86 L285.27,561.85 L286.73,561.84 L288.2,561.83 L289.66,561.82 L291.13,561.81 L292.59,561.8 L294.06,561.79 L295.52,561.77 L296.99,561.75 L298.45,561.74 L299.91,561.72 L301.38,561.7 L302.84,561.67 L304.31,561.65 L305.77,561.62 L307.24,561.59 L308.7,561.56 L310.17,561.52 L311.63,561.48 L313.09,561.44 L314.56,561.39 L316.02,561.34 L317.49,561.29 L318.95,561.23 L320.42,561.17 L321.88,561.1 L323.35,561.02 L324.81,560.94 L326.28,560.84 L327.74,560.75 L329.2,560.64 L330.67,560.52 L332.13,560.39 L333.6,560.25 L335.06,560.1 L336.53,559.94 L337.99,559.76 L339.46,559.56 L340.92,559.35 L342.39,559.12 L343.85,558.88 L345.31,558.61 L346.78,558.31 L348.24,557.99 L349.71,557.65 L351.17,557.28 L352.64,556.87 L354.1,556.44 L355.57,555.96 L357.03,555.45 L358.49,554.9 L359.96,554.3 L361.42,553.66 L362.89,552.97 L364.35,552.23 L365.82,551.43 L367.28,550.57 L368.75,549.65 L370.21,548.66 L371.68,547.61 L373.14,546.49 L374.6,545.29 L376.07,544.02 L377.53,542.67 L379,541.23 L380.46,539.72 L381.93,538.13 L383.39,536.45 L384.86,534.68 L386.32,532.84 L387.79,530.91 L389.25,528.91 L390.71,526.83 L392.18,524.67 L393.64,522.45 L395.11,520.17 L396.57,517.84 L398.04,515.45 L399.5,513.02 L400.97,510.57 L402.43,508.08 L403.9,505.59 L405.36,503.08 L406.82,500.59 L408.29,498.1 L409.75,495.64 L411.22,493.21 L412.68,490.81 L414.15,488.47 L415.61,486.18 L417.08,483.95 L418.54,481.78 L420,479.69 L421.47,477.67 L422.93,475.73 L424.4,473.88 L425.86,472.1 L427.33,470.41 L428.79,468.8 L430.26,467.27 L431.72,465.83 L433.19,464.46 L434.65,463.18" fill="none" stroke="#000" stroke-width="2"/>
<line x1="114.5" y1="561.95" x2="129" y2="561.95" stroke="#000" stroke-width="2" />
<line x1="110" y1="559.1" x2="110" y2="591.1" stroke="#000" stroke-width="1.8" />
<line x1="105" y1="559.1" x2="115" y2="559.1" stroke="#000" stroke-width="2.1" />
<line x1="105" y1="591.1" x2="115" y2="591.1" stroke="#000" stroke-width="2.1" />
<polygon points="110,570.75 115,579.25 105,579.25" fill="#000"/>
<line x1="278.85" y1="549.6" x2="278.85" y2="572.7" stroke="#000" stroke-width="1.8" />
<line x1="273.85" y1="549.6" x2="283.85" y2="549.6" stroke="#000" stroke-width="2.1" />
<line x1="273.85" y1="572.7" x2="283.85" y2="572.7" stroke="#000" stroke-width="2.1" />
<line x1="317.8" y1="545.7" x2="317.8" y2="573.4" stroke="#000" stroke-width="1.8" />
<line x1="312.8" y1="545.7" x2="322.8" y2="545.7" stroke="#000" stroke-width="2.1" />
<line x1="312.8" y1="573.4" x2="322.8" y2="573.4" stroke="#000" stroke-width="2.1" />
<line x1="356.75" y1="544.3" x2="356.75" y2="572.7" stroke="#000" stroke-width="1.8" />
<line x1="351.75" y1="544.3" x2="361.75" y2="544.3" stroke="#000" stroke-width="2.1" />
<line x1="351.75" y1="572.7" x2="361.75" y2="572.7" stroke="#000" stroke-width="2.1" />
<polygon points="200.95,552 205.95,561 195.95,561" fill="#000"/>
<polygon points="239.9,549.3 244.9,558.3 234.9,558.3" fill="#000"/>
<polygon points="278.85,557 283.85,566 273.85,566" fill="#000"/>
<polygon points="317.8,555.5 322.8,564.5 312.8,564.5" fill="#000"/>
<polygon points="356.75,553.9 361.75,562.9 351.75,562.9" fill="#000"/>
<polygon points="395.7,514.3 400.7,523.3 390.7,523.3" fill="#000"/>
<polygon points="434.65,458.2 439.65,467.2 429.65,467.2" fill="#000"/>
<text x="27.8" y="732.3" font-size="27.2" font-weight="bold" text-anchor="start" fill="#000" stroke="#000" stroke-width="0.7">C</text>
<text x="53.5" y="740.5" font-size="15.9" font-weight="normal" text-anchor="start" fill="#000"  stroke="#000" stroke-width="0.45">Ang2 (1µg/ml)</text>
<text x="52.7" y="766.8" font-size="16.2" font-weight="normal" text-anchor="start" fill="#000"  stroke="#000" stroke-width="0.45">Blocking mAb</text>
<rect x="159.5" y="713.8" width="246.3" height="76.4" fill="none" stroke="#000" stroke-width="1.5"/>
<text x="189.1" y="743.1" font-size="24.5" font-weight="bold" text-anchor="middle" fill="#000" >+</text>
<text x="225.4" y="743.1" font-size="24.5" font-weight="bold" text-anchor="middle" fill="#000" >+</text>
<text x="268.8" y="743.1" font-size="24.5" font-weight="bold" text-anchor="middle" fill="#000" >+</text>
<text x="304.6" y="743.1" font-size="24.5" font-weight="bold" text-anchor="middle" fill="#000" >+</text>
<text x="347.9" y="743.1" font-size="24.5" font-weight="bold" text-anchor="middle" fill="#000" >+</text>
<text x="381.3" y="742" font-size="27" font-weight="bold" text-anchor="middle" fill="#000" >-</text>
<text x="189" y="772.5" font-size="18" font-weight="normal" text-anchor="middle" fill="#000"  stroke="#000" stroke-width="0.5">IgG</text>
<text x="228.8" y="772.5" font-size="18" font-weight="normal" text-anchor="middle" fill="#000"  stroke="#000" stroke-width="0.5">IgG</text>
<text x="271.3" y="774.9" font-size="24.5" font-weight="bold" text-anchor="middle" fill="#000" >+</text>
<text x="306.6" y="774.9" font-size="24.5" font-weight="bold" text-anchor="middle" fill="#000" >+</text>
<text x="346.9" y="774.6" font-size="27" font-weight="bold" text-anchor="middle" fill="#000" >-</text>
<text x="384" y="774.6" font-size="27" font-weight="bold" text-anchor="middle" fill="#000" >-</text>
<text x="187.7" y="827.3" font-size="15.2" font-weight="normal" text-anchor="middle" fill="#000"  stroke="#000" stroke-width="0.45">1</text>
<text x="224" y="827.3" font-size="15.2" font-weight="normal" text-anchor="middle" fill="#000"  stroke="#000" stroke-width="0.45">2</text>
<text x="260" y="827.3" font-size="15.2" font-weight="normal" text-anchor="middle" fill="#000"  stroke="#000" stroke-width="0.45">3</text>
<text x="297" y="827.3" font-size="15.2" font-weight="normal" text-anchor="middle" fill="#000"  stroke="#000" stroke-width="0.45">4</text>
<text x="333" y="827.3" font-size="15.2" font-weight="normal" text-anchor="middle" fill="#000"  stroke="#000" stroke-width="0.45">5</text>
<text x="369" y="827.3" font-size="15.2" font-weight="normal" text-anchor="middle" fill="#000"  stroke="#000" stroke-width="0.45">6</text>
<defs>
<filter id="b1" filterUnits="userSpaceOnUse" x="-1200" y="-1200" width="2800" height="3400"><feGaussianBlur stdDeviation="1.1"/></filter>
<filter id="b2" filterUnits="userSpaceOnUse" x="-1200" y="-1200" width="2800" height="3400"><feGaussianBlur stdDeviation="2"/></filter>
<filter id="b3" filterUnits="userSpaceOnUse" x="-1200" y="-1200" width="2800" height="3400"><feGaussianBlur stdDeviation="10"/></filter>
<filter id="b5" filterUnits="userSpaceOnUse" x="-1200" y="-1200" width="2800" height="3400"><feGaussianBlur stdDeviation="8"/></filter>
<filter id="b4" filterUnits="userSpaceOnUse" x="-1200" y="-1200" width="2800" height="3400"><feGaussianBlur stdDeviation="6"/></filter>
<filter id="nz" x="0" y="0" width="100%" height="100%" color-interpolation-filters="sRGB"><feTurbulence type="fractalNoise" baseFrequency="0.35" numOctaves="2" seed="3"/><feColorMatrix type="matrix" values="0.5 0 0 0 0.35  0.5 0 0 0 0.35  0.5 0 0 0 0.35  0 0 0 0 0.3"/></filter>
<clipPath id="cp1"><rect x="163.8" y="832.2" width="236.4" height="119.4"/></clipPath>
<clipPath id="cp2"><rect x="162" y="955.9" width="238" height="81.3"/></clipPath>
<linearGradient id="g1" x1="0" y1="0" x2="1" y2="0"><stop offset="0" stop-color="#9a9a9a"/><stop offset="1" stop-color="#959595"/></linearGradient>
<linearGradient id="g2" x1="0" y1="0" x2="1" y2="0"><stop offset="0" stop-color="#959595"/><stop offset="0.85" stop-color="#979797"/><stop offset="1" stop-color="#a0a0a0"/></linearGradient>
</defs>
<rect x="163.8" y="832.2" width="236.4" height="119.4" fill="url(#g1)"/>
<g clip-path="url(#cp1)">
<ellipse cx="0" cy="0" rx="30" ry="15" fill="#6a6a6a" filter="url(#b5)" opacity="0.6" transform="translate(328,923) rotate(-60)"/>
<ellipse cx="0" cy="0" rx="26" ry="15" fill="#747474" filter="url(#b5)" opacity="0.5" transform="translate(304,950) rotate(-42)"/>
<path d="M326,908.5 Q337,908.5 348,907.5" fill="none" stroke="#828282" stroke-width="6" stroke-linecap="round" filter="url(#b2)" opacity="0.8"/>
<path d="M177.7,891.8 Q189.15,892 200.6,890.6" fill="none" stroke="#161616" stroke-width="4.6" stroke-linecap="round" filter="url(#b1)" opacity="1"/>
<path d="M214,891.6 Q225.6,891.8 237.2,890.4" fill="none" stroke="#1e1e1e" stroke-width="4.2" stroke-linecap="round" filter="url(#b1)" opacity="1"/>
<path d="M247.5,891.5 Q259,892.05 270.5,891" fill="none" stroke="#8a8a8a" stroke-width="3" stroke-linecap="round" filter="url(#b2)" opacity="1"/>
<path d="M284.5,891.5 Q296,892.05 307.5,891" fill="none" stroke="#8e8e8e" stroke-width="3" stroke-linecap="round" filter="url(#b2)" opacity="1"/>
<path d="M325.6,892 Q336.75,891.7 347.9,889.8" fill="none" stroke="#0c0c0c" stroke-width="6.6" stroke-linecap="round" filter="url(#b1)" opacity="1"/>
<path d="M361.5,891.4 Q373.5,890.9 385.5,889.4" fill="none" stroke="#707070" stroke-width="3" stroke-linecap="round" filter="url(#b1)" opacity="0.8"/>
<rect x="163.8" y="832.2" width="236.4" height="119.4" filter="url(#nz)" opacity="0.5"/>
</g>
<rect x="162" y="955.9" width="238" height="81.3" fill="url(#g2)"/>
<g clip-path="url(#cp2)">
<path d="M174.3,989.8 Q185.9,990.15 197.5,988.9" fill="none" stroke="#151515" stroke-width="5.8" stroke-linecap="round" filter="url(#b1)" opacity="1"/>
<path d="M211,988 Q222.4,988.4 233.8,987.2" fill="none" stroke="#151515" stroke-width="4.8" stroke-linecap="round" filter="url(#b1)" opacity="1"/>
<path d="M247,987.2 Q258.8,987.4 270.6,986" fill="none" stroke="#151515" stroke-width="5.2" stroke-linecap="round" filter="url(#b1)" opacity="1"/>
<path d="M283.7,985.8 Q295.65,986 307.6,984.6" fill="none" stroke="#151515" stroke-width="4.8" stroke-linecap="round" filter="url(#b1)" opacity="1"/>
<path d="M321.2,984.5 Q332.6,984.65 344,983.2" fill="none" stroke="#151515" stroke-width="4.8" stroke-linecap="round" filter="url(#b1)" opacity="1"/>
<path d="M357.9,982.8 Q370.1,982.8 382.3,981.2" fill="none" stroke="#151515" stroke-width="5.4" stroke-linecap="round" filter="url(#b1)" opacity="1"/>
<path d="M175.6,1004 Q186.25,1004.1 196.9,1003.6" fill="none" stroke="#727272" stroke-width="5.2" stroke-linecap="round" filter="url(#b1)" opacity="0.9"/>
<path d="M211.6,1003 Q222.5,1003.1 233.4,1002.6" fill="none" stroke="#828282" stroke-width="5.2" stroke-linecap="round" filter="url(#b1)" opacity="0.9"/>
<path d="M247.6,1001.6 Q259,1001.6 270.4,1001" fill="none" stroke="#7a7a7a" stroke-width="5.2" stroke-linecap="round" filter="url(#b1)" opacity="0.9"/>
<path d="M284.1,999.4 Q295.75,999.4 307.4,998.8" fill="none" stroke="#828282" stroke-width="5.2" stroke-linecap="round" filter="url(#b1)" opacity="0.9"/>
<path d="M321.6,999.2 Q333,999.2 344.4,998.6" fill="none" stroke="#858585" stroke-width="5.2" stroke-linecap="round" filter="url(#b1)" opacity="0.9"/>
<path d="M358.6,997.6 Q370.25,997.4 381.9,996.6" fill="none" stroke="#7a7a7a" stroke-width="5.2" stroke-linecap="round" filter="url(#b1)" opacity="0.9"/>
<path d="M180.8,1015.3 Q185,1015.9 189.2,1014.9" fill="none" stroke="#222" stroke-width="3.6" stroke-linecap="round" filter="url(#b1)" opacity="1"/>
<path d="M188.5,1014.8 Q193,1015.3 197.5,1014.2" fill="none" stroke="#555" stroke-width="3" stroke-linecap="round" filter="url(#b1)" opacity="1"/>
<rect x="162" y="955.9" width="238" height="81.3" filter="url(#nz)" opacity="0.5"/>
</g>
<text x="153.3" y="855.5" font-size="14.4" font-weight="normal" text-anchor="end" fill="#000"  stroke="#000" stroke-width="0.5">MW</text>
<text x="153.3" y="876.6" font-size="14.4" font-weight="normal" text-anchor="end" fill="#000"  stroke="#000" stroke-width="0.5">250</text>
<text x="153.3" y="893" font-size="14.4" font-weight="normal" text-anchor="end" fill="#000"  stroke="#000" stroke-width="0.5">150</text>
<text x="153.3" y="917" font-size="14.4" font-weight="normal" text-anchor="end" fill="#000"  stroke="#000" stroke-width="0.5">100</text>
<text x="153.3" y="932.9" font-size="14.4" font-weight="normal" text-anchor="end" fill="#000"  stroke="#000" stroke-width="0.5">75</text>
<text x="153.3" y="960" font-size="14.4" font-weight="normal" text-anchor="end" fill="#000"  stroke="#000" stroke-width="0.5">MW</text>
<text x="153.3" y="975.4" font-size="14.4" font-weight="normal" text-anchor="end" fill="#000"  stroke="#000" stroke-width="0.5">250</text>
<text x="153.3" y="992.2" font-size="14.4" font-weight="normal" text-anchor="end" fill="#000"  stroke="#000" stroke-width="0.5">150</text>
<text x="153.3" y="1016.7" font-size="14.4" font-weight="normal" text-anchor="end" fill="#000"  stroke="#000" stroke-width="0.5">100</text>
<text x="153.3" y="1031.6" font-size="14.4" font-weight="normal" text-anchor="end" fill="#000"  stroke="#000" stroke-width="0.5">75</text>
<line x1="411.2" y1="889.4" x2="428" y2="889.4" stroke="#000" stroke-width="2.7" />
<polygon points="404.2,889.4 414.2,885 412.7,889.4 414.2,893.8" fill="#000"/>
<text x="432.7" y="895.1" font-size="14.3" font-weight="bold" text-anchor="start" fill="#000"  stroke="#000" stroke-width="0.35">pTie2</text>
<line x1="409.3" y1="980.6" x2="427" y2="980.6" stroke="#000" stroke-width="2.7" />
<polygon points="402.3,980.6 412.3,976.2 410.8,980.6 412.3,985" fill="#000"/>
<text x="428" y="985.3" font-size="14.3" font-weight="bold" text-anchor="start" fill="#000"  stroke="#000" stroke-width="0.35">Total Tie2</text>
</g>
</svg>
</body></html>
